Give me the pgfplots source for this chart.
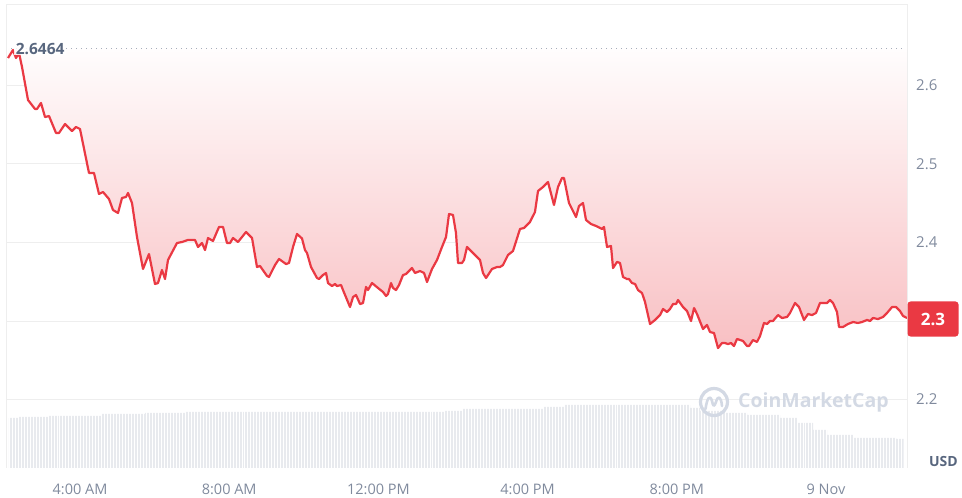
\documentclass[border=0pt]{standalone}
\usepackage{pgfplots}
\usepackage{pgfplotstable}
\pgfplotsset{compat=1.18}
\usepackage{fontspec}
\setmainfont{Open Sans}
\definecolor{cmcred}{HTML}{EA3943}
\definecolor{lblgray}{HTML}{808A9D}
\definecolor{dkgray}{HTML}{58667E}
\definecolor{gridgray}{HTML}{EEEEEE}
\definecolor{volgray}{HTML}{E8EAEE}
\definecolor{wmark}{HTML}{D3D9E4}
\definecolor{dotgray}{HTML}{A6AEBB}

\pgfplotstableread{
h v
2.070 2.6346
2.204 2.6448
2.284 2.6346
2.365 2.6410
2.445 2.6232
2.606 2.5812
2.794 2.5697
2.847 2.5697
2.954 2.5774
3.062 2.5595
3.169 2.5608
3.357 2.5392
3.437 2.5392
3.598 2.5506
3.786 2.5417
3.893 2.5468
4.000 2.5443
4.241 2.4883
4.375 2.4883
4.509 2.4616
4.617 2.4641
4.777 2.4552
4.885 2.4412
5.019 2.4374
5.126 2.4565
5.233 2.4578
5.287 2.4629
5.394 2.4501
5.528 2.4069
5.689 2.3662
5.850 2.3852
6.011 2.3471
6.091 2.3483
6.198 2.3649
6.279 2.3534
6.359 2.3776
6.600 2.3992
6.735 2.4005
6.895 2.4031
7.083 2.4031
7.164 2.3942
7.271 2.3992
7.351 2.3903
7.432 2.4056
7.566 2.4018
7.727 2.4196
7.834 2.4196
7.941 2.3992
8.022 2.3992
8.102 2.4056
8.236 2.4005
8.451 2.4132
8.612 2.4056
8.745 2.3687
8.826 2.3700
9.014 2.3573
9.067 2.3560
9.228 2.3712
9.335 2.3789
9.523 2.3725
9.603 2.3738
9.711 2.3942
9.818 2.4107
9.952 2.4050
10.032 2.3903
10.086 2.3865
10.193 2.3687
10.354 2.3547
10.408 2.3534
10.515 2.3585
10.596 2.3611
10.649 2.3483
10.757 2.3445
10.837 2.3471
10.891 2.3445
10.998 2.3458
11.051 2.3394
11.239 2.3178
11.320 2.3305
11.400 2.3331
11.507 2.3216
11.588 2.3229
11.668 2.3433
11.721 2.3394
11.829 2.3483
11.990 2.3420
12.124 2.3369
12.204 2.3318
12.258 2.3344
12.338 2.3483
12.392 2.3420
12.472 2.3394
12.553 2.3458
12.660 2.3585
12.740 2.3598
12.901 2.3674
12.981 2.3611
13.115 2.3636
13.223 2.3611
13.303 2.3496
13.437 2.3662
13.571 2.3776
13.705 2.3942
13.813 2.4069
13.893 2.4361
14.000 2.4349
14.080 2.4120
14.134 2.3738
14.241 2.3738
14.295 2.3776
14.375 2.3942
14.536 2.3865
14.724 2.3776
14.804 2.3611
14.885 2.3547
15.046 2.3662
15.180 2.3687
15.260 2.3687
15.340 2.3712
15.475 2.3840
15.609 2.3891
15.796 2.4171
15.903 2.4183
16.064 2.4260
16.198 2.4387
16.279 2.4654
16.413 2.4705
16.547 2.4768
16.708 2.4476
16.815 2.4705
16.922 2.4819
16.976 2.4819
17.110 2.4501
17.298 2.4323
17.378 2.4463
17.485 2.4501
17.566 2.4285
17.700 2.4234
17.834 2.4209
17.995 2.4171
18.049 2.4196
18.129 2.3942
18.236 2.3954
18.290 2.3674
18.397 2.3751
18.477 2.3738
18.558 2.3560
18.665 2.3534
18.719 2.3534
18.799 2.3483
18.880 2.3471
18.960 2.3394
19.067 2.3356
19.148 2.3242
19.282 2.2962
19.416 2.3013
19.550 2.3076
19.631 2.3153
19.738 2.3115
19.818 2.3153
19.899 2.3216
19.979 2.3216
20.033 2.3267
20.167 2.3178
20.274 2.3127
20.381 2.3000
20.462 2.3165
20.542 2.3089
20.703 2.2898
20.810 2.2949
20.890 2.2860
20.998 2.2847
21.105 2.2656
21.212 2.2720
21.292 2.2720
21.373 2.2707
21.453 2.2720
21.534 2.2682
21.614 2.2771
21.775 2.2746
21.882 2.2682
21.936 2.2682
22.043 2.2758
22.150 2.2733
22.231 2.2809
22.338 2.2975
22.418 2.2962
22.499 2.3000
22.579 2.3000
22.713 2.3076
22.820 2.3038
22.955 2.3051
23.035 2.3102
23.169 2.3229
23.276 2.3178
23.410 2.3013
23.518 2.3089
23.625 2.3076
23.732 2.3102
23.839 2.3229
24.027 2.3229
24.108 2.3267
24.188 2.3229
24.295 2.3115
24.349 2.2924
24.456 2.2924
24.590 2.2962
24.724 2.2987
24.858 2.2975
24.965 2.2987
25.099 2.3013
25.180 2.3000
25.260 2.3038
25.394 2.3025
25.528 2.3051
25.636 2.3102
25.770 2.3178
25.877 2.3178
25.984 2.3127
26.065 2.3064
26.172 2.3038
}\pricedata

\pgfplotstableread{
h vol
2.090 50
2.338 51
3.169 52
4.590 54
5.743 55
6.815 56
13.759 57
14.268 59
16.413 61
17.003 63
20.354 60
20.622 57
21.239 55
21.882 53
22.767 50
23.223 45
23.652 38
24.027 33
24.724 30
25.877 29
26.080 29
}\voldata

\begin{document}
\begin{tikzpicture}

% volume bars
\begin{axis}[
  at={(6pt,30pt)}, anchor=south west, scale only axis,
  width=901.5pt, height=463pt,
  xmin=2.016, xmax=26.185, ymin=0, ymax=463,
  axis line style={draw=none},
  ytick=\empty,
  xtick={2.1,2.18,...,26.1}, xticklabels={}, major tick length=0pt,
  xmajorgrids, major grid style={white, line width=0.75pt},
  axis on top,
]
\addplot[const plot, fill=volgray, draw=none] table[x=h, y=vol] {\voldata} \closedcycle;
\end{axis}

% price
\begin{axis}[
  at={(6pt,30pt)}, anchor=south west, scale only axis,
  width=901.5pt, height=463pt,
  xmin=2.016, xmax=26.185, ymin=2.11298, ymax=2.70204,
  axis line style={draw=none},
  major tick length=0pt,
  ytick={2.2,2.4,2.5,2.6},
  extra y ticks={2.3}, extra y tick labels={},
  extra tick style={grid=major},
  yticklabel pos=right,
  /pgf/number format/assume math mode=true,
  yticklabel={\pgfmathprintnumber[fixed,precision=1]{\tick}},
  yticklabel style={anchor=west, inner sep=0pt, xshift=8.5pt, text=lblgray, font=\fontsize{15}{15}\selectfont},
  ymajorgrids, major grid style={gridgray, line width=1pt},
  xtick={4,8,12,16,20,24},
  xticklabels={4:00 AM, 8:00 AM, 12:00 PM, 4:00 PM, 8:00 PM, 9 Nov},
  xticklabel style={anchor=base, inner sep=0pt, yshift=-27pt, text=lblgray, font=\fontsize{14.5}{14.5}\selectfont},
]
\addplot[top color=cmcred!1!white, bottom color=cmcred!32!white, draw=none, forget plot]
  table[x=h, y=v] {\pricedata} -- (axis cs:26.172,2.6464) -- (axis cs:2.070,2.6464) -- cycle;
\addplot[dotgray, line width=1.3pt, dash pattern=on 1.4pt off 3.6pt] coordinates {(2.016,2.6464) (26.118,2.6464)};
\addplot[cmcred, line width=2.2pt, line join=round] table[x=h, y=v] {\pricedata};
\coordinate (bl) at (rel axis cs:0,0);
\coordinate (tr) at (rel axis cs:1,1);
\coordinate (lab) at (axis cs:2.22,2.6464);
\coordinate (last) at (axis cs:26.185,2.3);
\end{axis}

% frame
\draw[gridgray, line width=1pt] (bl) -- (bl |- tr) -- (tr) -- (tr |- bl);

% open price label
\node[anchor=west, fill=white, fill opacity=0.85, text opacity=1, inner xsep=2pt, inner ysep=1pt,
      text=dkgray, font=\bfseries\fontsize{15.5}{15.5}\selectfont] at (lab) {2.6464};

% current price box
\node[fill=cmcred, text=white, rounded corners=3pt, minimum width=51pt, minimum height=35pt, inner sep=0pt,
      font=\bfseries\fontsize{17}{17}\selectfont, anchor=center] at ([xshift=25.5pt,yshift=2pt]last) {2.3};

% USD
\node[anchor=base east, inner sep=0pt, text=dkgray, font=\bfseries\fontsize{14}{14}\selectfont] at (958pt,31pt) {USD};

% watermark
\draw[wmark, line width=3.2pt] (714pt,96pt) circle (13.5pt);
\draw[wmark, line width=2.6pt, line join=round, line cap=round]
  (705.5pt,89pt) .. controls (707pt,100pt) and (710pt,104pt) .. (712pt,97pt)
  .. controls (713pt,92pt) and (714pt,90pt) .. (716pt,96pt)
  .. controls (718pt,103pt) and (721pt,102pt) .. (722pt,92pt);
\node[anchor=west, inner sep=0pt, text=wmark, font=\bfseries\fontsize{19.5}{19.5}\selectfont] at (738pt,96pt) {CoinMarketCap};

\path (0,0) rectangle (962pt,498pt);
\end{tikzpicture}
\end{document}
